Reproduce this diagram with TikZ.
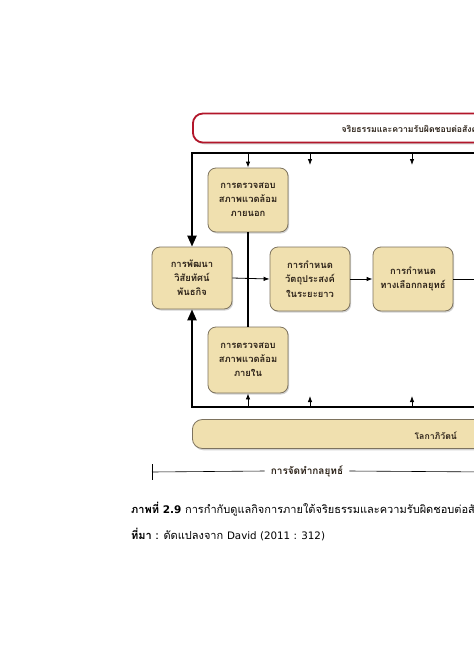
\documentclass[tikz,border=0pt]{standalone}
\usepackage{fontspec}
\setmainfont[Script=Thai]{Loma}
\newfontfamily\latinfont{DejaVu Sans}
\usetikzlibrary{arrows.meta,shadows}
\definecolor{boxtan}{RGB}{240,224,175}
\definecolor{boxedge}{RGB}{125,115,95}
\definecolor{ethred}{RGB}{178,22,42}
\definecolor{boxtext}{RGB}{45,35,25}
\tikzset{
  stepbox/.style={draw=boxedge, fill=boxtan, line width=0.8pt, rounded corners=8pt,
    minimum width=80pt, minimum height=64pt, align=center, text=boxtext,
    font=\fontsize{9.4}{14.2}\selectfont\bfseries, inner sep=1pt,
    drop shadow={opacity=0.35, shadow xshift=1.2pt, shadow yshift=-1.5pt}},
  bandbox/.style={rounded corners=10pt, minimum height=29pt, minimum width=330pt,
    drop shadow={opacity=0.35, shadow xshift=1.2pt, shadow yshift=-1.8pt}},
  frameline/.style={line width=2.2pt, black},
  bigtip/.style={-{Triangle[width=9pt,length=11pt]}},
  smallarrow/.style={line width=0.8pt, -{Latex[width=4.5pt,length=6pt]}},
  thinline/.style={line width=1.1pt, black},
  lbl/.style={font=\fontsize{8.7}{10}\selectfont\bfseries, text=boxtext},
  captext/.style={font=\fontsize{11}{13}\selectfont, anchor=base west, inner sep=0pt}
}
\begin{document}
\begin{tikzpicture}[x=1pt,y=-1pt]
\useasboundingbox (0,0) rectangle (474,670);
\clip (0,0) rectangle (474,670);
\fill[white] (0,0) rectangle (474,670);

% top ethics band
\node[bandbox, draw=ethred, line width=1.8pt, fill=white, anchor=west] (eth) at (192,128) {};
\node[lbl, anchor=west] (ethtext) at (338,129) {จริยธรรมและความรับผิดชอบต่อสังคม};

% bottom globalisation band
\node[bandbox, draw=boxedge, line width=0.8pt, fill=boxtan, anchor=west] (glob) at (192,434) {};
\node[lbl, anchor=west] (globtext) at (411,436) {โลกาภิวัตน์};

% boxes
\node[stepbox] (ext) at (248,200) {การตรวจสอบ\\สภาพแวดล้อม\\ภายนอก};
\node[stepbox, minimum height=62pt] (vision) at (192,278) {การพัฒนา\\วิสัยทัศน์\\พันธกิจ};
\node[stepbox] (goal) at (310,279) {การกำหนด\\วัตถุประสงค์\\ในระยะยาว};
\node[stepbox] (strat) at (413,279) {การกำหนด\\ทางเลือกกลยุทธ์};
\node[stepbox, minimum height=66pt] (int) at (248,360) {การตรวจสอบ\\สภาพแวดล้อม\\ภายใน};

% frame coordinates
\coordinate (tl) at (192,153);
\coordinate (tr) at (490,153);
\coordinate (bl) at (192,407);
\coordinate (br) at (490,407);
\coordinate (ta) at (310,165);
\coordinate (tb) at (412,165);
\coordinate (ba) at (310,396);
\coordinate (bb) at (412,396);
\coordinate (re) at (490,279);

% frame
\draw[frameline, bigtip] (tr) -- (tl) -- (vision.north);
\draw[frameline, bigtip] (br) -- (bl) -- (vision.south);

% small arrows
\draw[smallarrow] (ext.north |- tl) -- (ext.north);
\draw[smallarrow] (ta |- tl) -- (ta);
\draw[smallarrow] (tb |- tl) -- (tb);
\draw[smallarrow] (int.south |- bl) -- (int.south);
\draw[smallarrow] (ba |- bl) -- (ba);
\draw[smallarrow] (bb |- bl) -- (bb);

% inner connectors
\draw[thinline] (ext.south) -- (int.north);
\draw[smallarrow] (vision.east) -- (goal.west);
\draw[smallarrow] (goal.east) -- (strat.west);
\draw[line width=0.8pt] (strat.east) -- (re);

% timeline
\coordinate (tk) at (152,472);
\coordinate (tkend) at (490,472);
\node[lbl, font=\fontsize{10}{12}\selectfont\bfseries, inner sep=6pt] (form) at (307,471) {การจัดทำกลยุทธ์};
\draw[line width=1pt] ([yshift=8pt]tk) -- ([yshift=-8pt]tk);
\draw[line width=0.6pt] (tk) -- (form.west);
\draw[line width=0.6pt] (form.east) -- (tkend);

% caption
\node[captext] (cap1) at (131,513) {\textbf{ภาพที่ {\latinfont\fontsize{10.5}{13}\selectfont 2.9}} การกำกับดูแลกิจการภายใต้จริยธรรมและความรับผิดชอบต่อสังคม};
\node[captext] (cap2) at (131,539) {\textbf{ที่มา :} ดัดแปลงจาก {\latinfont\fontsize{10.3}{13}\selectfont David (2011 : 312)}};
\end{tikzpicture}
\end{document}
